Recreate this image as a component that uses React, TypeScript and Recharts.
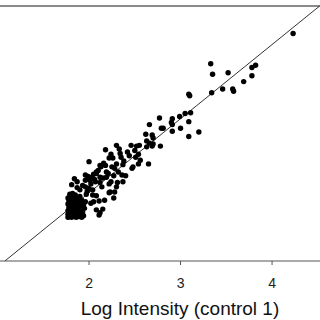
import {
  ScatterChart,
  Scatter,
  XAxis,
  YAxis,
  ReferenceLine,
} from 'recharts'

// log intensity, control 1 (x) against the compared sample (y)
const pointsX = [
  4.23, 3.33, 3.35, 3.52, 3.78, 3.82, 3.78, 3.69, 3.46, 3.57, 3.58, 3.34, 3.09, 3.10, 3.11, 3.05,
  2.99, 2.91, 2.77, 2.90, 2.91, 3.09, 3.00, 2.91, 3.20, 3.09, 2.66, 2.79, 2.81, 2.62, 2.69, 2.70,
  2.63, 2.66, 2.69, 2.63, 2.70, 2.78, 2.65, 2.55, 2.52, 2.46, 2.30, 2.33, 2.18, 2.50, 2.54, 2.51,
  2.34, 2.24, 2.26, 2.22, 2.38, 2.37, 2.56, 2.54, 2.48, 2.47, 2.00, 2.12, 2.13, 2.18, 2.30, 2.28,
  2.08, 2.08, 2.19, 2.21, 2.19, 2.32, 2.36, 2.40, 2.27, 2.24, 2.31, 2.37, 1.84, 1.87, 1.96, 1.99,
  2.03, 1.96, 2.01, 2.12, 2.12, 2.07, 2.14, 2.22, 2.30, 2.28, 2.23, 2.22, 2.27, 1.81, 1.87, 1.90,
  1.96, 2.00, 1.97, 2.04, 2.04, 2.08, 2.11, 2.17, 2.02, 2.05, 2.08, 2.12, 2.15, 2.11, 1.95, 1.92,
  1.96, 2.10, 2.16, 2.05, 2.25, 2.02, 1.98, 2.35, 2.42, 2.44, 1.93, 2.06, 2.15,
  // low-intensity cluster
  1.77, 1.79, 1.81, 1.84, 1.86, 1.89, 1.92, 1.94, 1.77, 1.80, 1.83, 1.85, 1.88, 1.91, 1.93, 1.77,
  1.79, 1.82, 1.85, 1.87, 1.90, 1.78, 1.81, 1.84, 1.86, 1.89, 1.77, 1.80, 1.83, 1.86, 1.88, 1.78,
  1.81, 1.84, 1.87, 1.77, 1.80, 1.83, 1.86, 1.79, 1.82, 1.85, 1.90, 1.92, 1.94, 1.93,
]

const pointsY = [
  4.15, 3.74, 3.60, 3.62, 3.69, 3.72, 3.58, 3.50, 3.40, 3.40, 3.37, 3.35, 3.33, 3.31, 3.08, 3.07,
  3.03, 3.00, 3.01, 2.95, 2.92, 2.96, 2.87, 2.83, 2.82, 2.76, 2.92, 2.87, 2.87, 2.79, 2.78, 2.74,
  2.70, 2.67, 2.63, 2.62, 2.66, 2.63, 2.39, 2.64, 2.63, 2.64, 2.64, 2.59, 2.58, 2.57, 2.52, 2.48,
  2.53, 2.52, 2.47, 2.47, 2.43, 2.38, 2.44, 2.39, 2.35, 2.33, 2.42, 2.37, 2.35, 2.37, 2.39, 2.33,
  2.28, 2.26, 2.28, 2.26, 2.21, 2.28, 2.24, 2.23, 2.23, 2.15, 2.14, 2.15, 2.19, 2.15, 2.24, 2.22,
  2.21, 2.17, 2.17, 2.21, 2.14, 2.15, 2.08, 2.12, 2.08, 2.01, 2.01, 2.00, 1.93, 2.11, 2.07, 2.04,
  2.08, 2.06, 1.98, 2.04, 1.97, 1.96, 1.89, 1.90, 1.86, 1.88, 1.77, 1.73, 1.78, 1.70, 1.79, 1.85,
  1.88, 2.30, 2.40, 2.25, 2.35, 2.12, 2.02, 2.48, 2.55, 2.50, 2.10, 2.18, 2.20,
  1.67, 1.68, 1.67, 1.68, 1.67, 1.68, 1.67, 1.69, 1.71, 1.72, 1.71, 1.73, 1.72, 1.71, 1.74, 1.76,
  1.75, 1.77, 1.76, 1.78, 1.76, 1.80, 1.81, 1.80, 1.82, 1.81, 1.85, 1.84, 1.86, 1.85, 1.87, 1.89,
  1.90, 1.89, 1.91, 1.93, 1.94, 1.95, 1.93, 1.98, 1.99, 1.97, 1.95, 1.90, 1.84, 1.79,
]

const xTicks = [2, 3, 4]
const xDomain = [1.027, 4.524]
const yDomain = [1.08, 4.52]
// y = x reference line
const identityLine = [1.08, 4.52]

const data = pointsX.map((x, i) => ({ x, y: pointsY[i] }))

const font = '"Liberation Sans", Arial, sans-serif'

const Dot = (props: any) => <circle cx={props.cx} cy={props.cy} r={2.7} fill="#000" />

export default function App() {
  return (
    <div style={{ position: 'absolute', left: 0, top: 0, width: 320, height: 320, background: '#fff' }}>
      <ScatterChart width={320} height={320} margin={{ top: 6, right: 0, left: 0, bottom: 0 }}>
        <XAxis
          type="number"
          dataKey="x"
          domain={xDomain}
          ticks={xTicks}
          allowDataOverflow
          height={59}
          tickSize={4}
          tickMargin={13}
          axisLine={{ stroke: '#555' }}
          tickLine={{ stroke: '#555' }}
          tick={{ fill: '#222', fontSize: 14, fontFamily: font }}
          label={{
            value: 'Log Intensity (control 1)',
            position: 'insideBottom',
            offset: 5,
            dx: 20,
            fill: '#111',
            fontSize: 19,
            fontFamily: font,
          }}
        />
        <YAxis type="number" dataKey="y" domain={yDomain} allowDataOverflow hide width={0} />
        <ReferenceLine y={yDomain[1]} stroke="#8a8a8a" strokeWidth={2} />
        <ReferenceLine
          segment={[
            { x: identityLine[0], y: identityLine[0] },
            { x: identityLine[1], y: identityLine[1] },
          ]}
          stroke="#333"
          strokeWidth={1}
        />
        <Scatter data={data} shape={Dot} isAnimationActive={false} />
      </ScatterChart>
    </div>
  )
}
